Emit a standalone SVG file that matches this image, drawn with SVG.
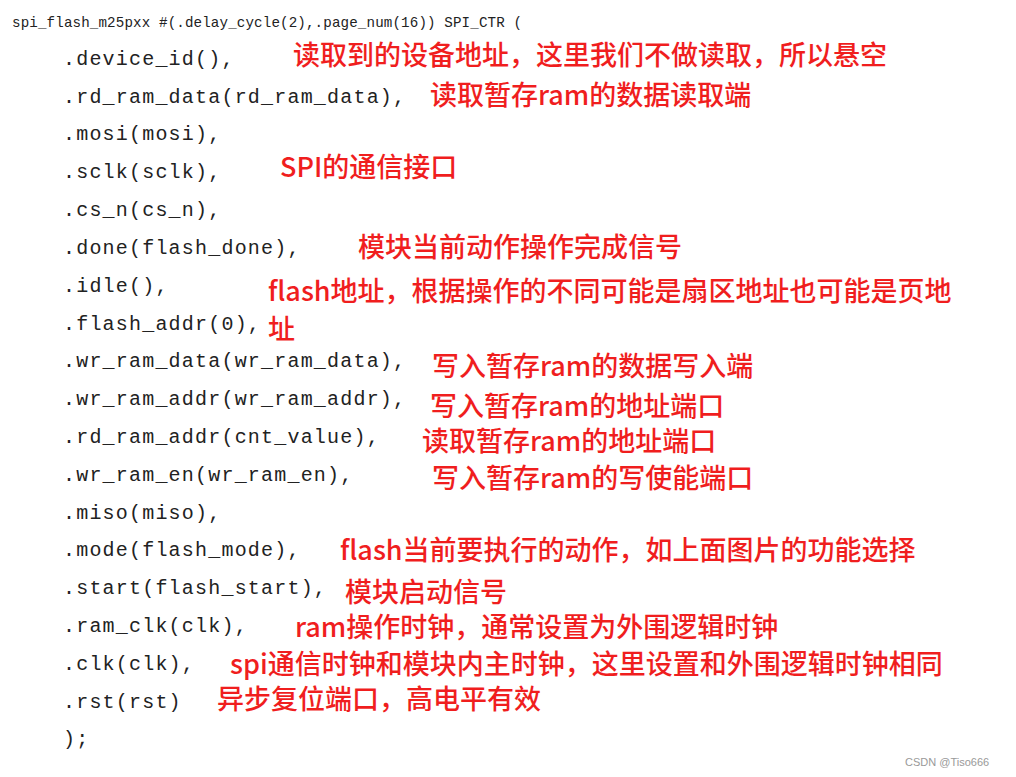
<svg xmlns="http://www.w3.org/2000/svg" width="1016" height="777" viewBox="0 0 1016 777">
<style>
.c{font-family:"Liberation Mono",monospace;font-size:20px;letter-spacing:1.2px;fill:#222}
.h{font-size:14.2px;letter-spacing:0}
.r{font-family:"Noto Sans CJK SC",sans-serif;font-size:27px;font-weight:500;fill:#f01e1e}
.w{font-family:"Liberation Sans",sans-serif;font-size:11px;fill:#999}
</style>
<rect width="1016" height="777" fill="#fff"/>
<g class="c">
<text class="h" x="12" y="27" textLength="510">spi_flash_m25pxx #(.delay_cycle(2),.page_num(16)) SPI_CTR (</text>
<text x="63" y="65">.device_id(),</text>
<text x="63" y="103">.rd_ram_data(rd_ram_data),</text>
<text x="63" y="140">.mosi(mosi),</text>
<text x="63" y="178">.sclk(sclk),</text>
<text x="63" y="216">.cs_n(cs_n),</text>
<text x="63" y="254">.done(flash_done),</text>
<text x="63" y="292">.idle(),</text>
<text x="63" y="330">.flash_addr(0),</text>
<text x="63" y="367">.wr_ram_data(wr_ram_data),</text>
<text x="63" y="405">.wr_ram_addr(wr_ram_addr),</text>
<text x="63" y="443">.rd_ram_addr(cnt_value),</text>
<text x="63" y="481">.wr_ram_en(wr_ram_en),</text>
<text x="63" y="519">.miso(miso),</text>
<text x="63" y="556">.mode(flash_mode),</text>
<text x="63" y="594">.start(flash_start),</text>
<text x="63" y="632">.ram_clk(clk),</text>
<text x="63" y="670">.clk(clk),</text>
<text x="63" y="708">.rst(rst)</text>
<text x="63" y="745">);</text>
</g>
<g class="r">
<text x="293" y="65">读取到的设备地址，这里我们不做读取，所以悬空</text>
<text x="430" y="105">读取暂存ram的数据读取端</text>
<text x="280" y="177">SPI的通信接口</text>
<text x="358" y="257">模块当前动作操作完成信号</text>
<text x="268" y="301">flash地址，根据操作的不同可能是扇区地址也可能是页地</text>
<text x="268" y="339">址</text>
<text x="432" y="376">写入暂存ram的数据写入端</text>
<text x="430" y="416">写入暂存ram的地址端口</text>
<text x="422" y="451">读取暂存ram的地址端口</text>
<text x="432" y="488">写入暂存ram的写使能端口</text>
<text x="340" y="560">flash当前要执行的动作，如上面图片的功能选择</text>
<text x="345" y="602">模块启动信号</text>
<text x="295" y="637">ram操作时钟，通常设置为外围逻辑时钟</text>
<text x="230" y="674">spi通信时钟和模块内主时钟，这里设置和外围逻辑时钟相同</text>
<text x="217" y="709">异步复位端口，高电平有效</text>
</g>
<text class="w" x="905" y="766">CSDN @Tiso666</text>
</svg>
